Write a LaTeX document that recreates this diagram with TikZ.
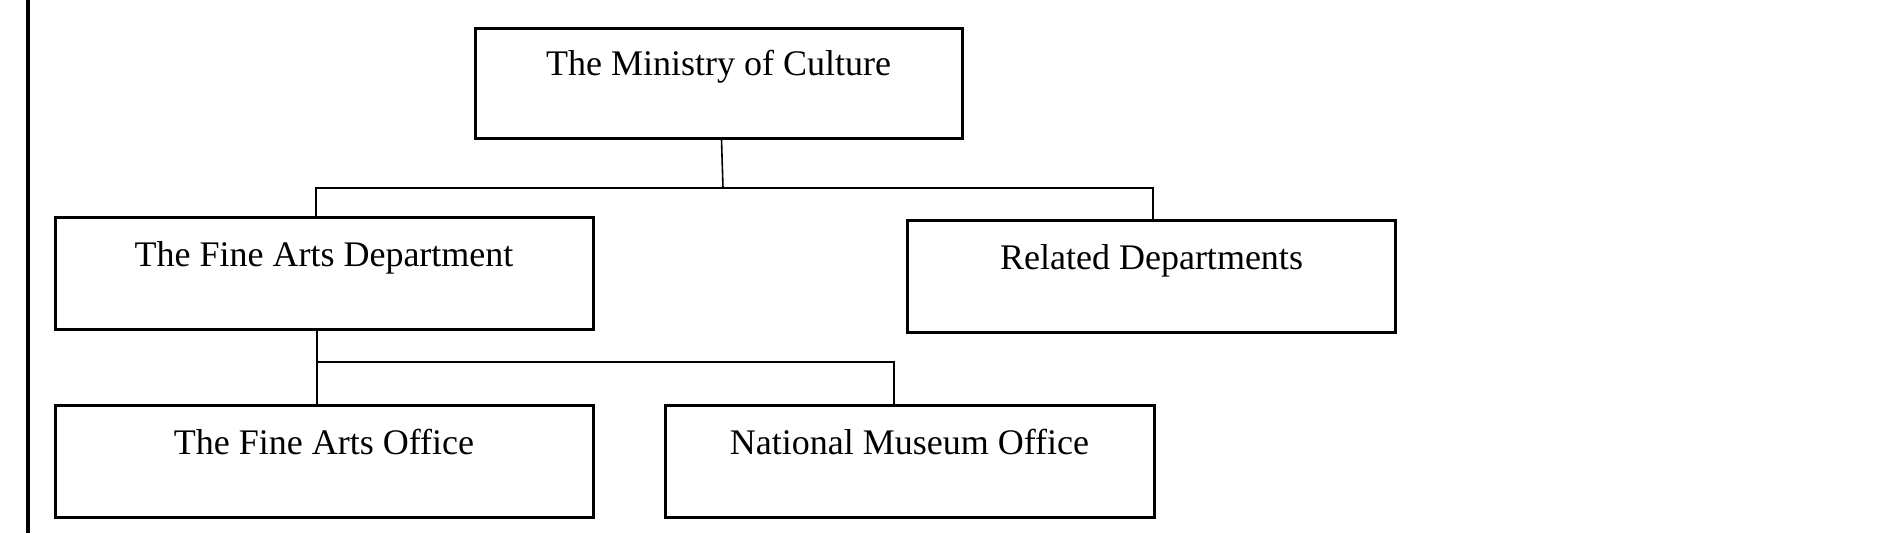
\documentclass[tikz,border=0pt]{standalone}
\usepackage{fontspec}
\setmainfont{Liberation Serif}
\begin{document}
\begin{tikzpicture}[x=1pt,y=-1pt,
  orgbox/.style={draw, line width=3pt, rectangle, inner xsep=0pt, inner ysep=0pt,
    text height=47pt, text depth=63pt, anchor=north west,
    font=\fontsize{36}{40}\selectfont},
  tall/.style={text height=49pt, text depth=63pt},
  link/.style={line width=1.6pt}]
\useasboundingbox (0,0) rectangle (1880,533);
\coordinate (bt) at (28,0);
\coordinate (bb) at (28,533);
\draw[line width=4pt] (bt) -- (bb);
\node[orgbox, minimum width=487pt] (min) at (473.5,26.5) {The Ministry of Culture};
\node[orgbox, tall, minimum width=538pt] (fad) at (53.5,215.5) {The Fine Arts Department};
\node[orgbox, tall, minimum width=488pt] (rd) at (906,218.5) {Related Departments};
\node[orgbox, tall, minimum width=538pt] (fao) at (53.5,403.5) {The Fine Arts Office};
\node[orgbox, tall, minimum width=489pt] (nmo) at (663.5,403.5) {National Museum Office};
\coordinate (j1) at (723,188);
\coordinate (b1) at (316,188);
\coordinate (b2) at (1153,188);
\coordinate (c1) at (317,362);
\coordinate (c2) at (894,362);
\draw[link] ([xshift=3pt]min.south) -- (j1);
\draw[link] (b1 |- fad.north) -- (b1) -- (b2) -- (b2 |- rd.north);
\draw[link] (c1 |- fad.south) -- (c1 |- fao.north);
\draw[link] (c1) -- (c2) -- (c2 |- nmo.north);
\end{tikzpicture}
\end{document}
